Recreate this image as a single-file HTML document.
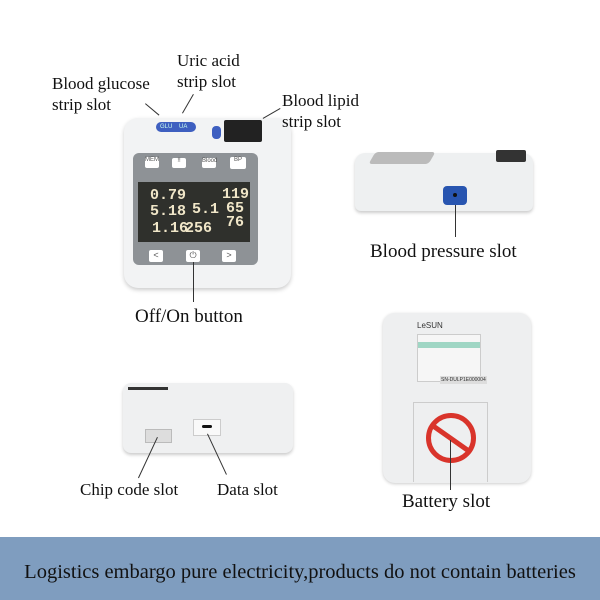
<!DOCTYPE html>
<html><head><style>
body{margin:0;width:600px;height:600px;background:#fff;position:relative;overflow:hidden;font-family:"Liberation Serif",serif;}
div{position:absolute;box-sizing:border-box;}
.t{font-size:17px;color:#111;white-space:nowrap;line-height:20px;z-index:5;}
.ln{background:#333;width:1px;transform-origin:top left;z-index:4;}
.btn{background:#fff;border-radius:2px;font-family:"Liberation Sans",sans-serif;font-size:6px;text-align:center;color:#555;}
.seg{font-family:"Liberation Mono",monospace;color:#f0e6c8;font-size:15px;line-height:15px;font-weight:bold;}
</style></head><body>

<!-- labels top-left -->
<div class="t" style="left:52px;top:74px">Blood glucose</div>
<div class="t" style="left:52px;top:95px">strip slot</div>
<div class="t" style="left:177px;top:51px">Uric acid</div>
<div class="t" style="left:177px;top:72px">strip slot</div>
<div class="t" style="left:282px;top:91px">Blood lipid</div>
<div class="t" style="left:282px;top:112px">strip slot</div>
<div class="ln" style="left:145px;top:104px;height:18px;transform:rotate(-50deg)"></div>
<div class="ln" style="left:193px;top:94px;height:22px;transform:rotate(30deg)"></div>
<div class="ln" style="left:280px;top:108px;height:20px;transform:rotate(60deg)"></div>

<!-- main device -->
<div style="left:124px;top:118px;width:167px;height:170px;background:#f2f3f4;border-radius:14px;box-shadow:0 2px 4px #ccc"></div>
<div style="left:156px;top:122px;width:40px;height:10px;background:#3e5fc0;border-radius:5px;color:#cfe;font:6px 'Liberation Sans',sans-serif;padding:2px 4px">GLU&nbsp;&nbsp;&nbsp;&nbsp;UA</div>
<div style="left:212px;top:126px;width:9px;height:13px;background:#3e5fc0;border-radius:4px"></div>
<div style="left:224px;top:120px;width:38px;height:22px;background:#222;border-radius:2px"></div>
<div style="left:133px;top:153px;width:125px;height:112px;background:#8e9296;border-radius:6px"></div>
<div class="btn" style="left:145px;top:157px;width:14px;height:11px">MEM</div>
<div class="btn" style="left:172px;top:158px;width:14px;height:10px">!!</div>
<div class="btn" style="left:202px;top:158px;width:14px;height:10px">Blood</div>
<div class="btn" style="left:230px;top:157px;width:16px;height:12px">BP</div>
<div style="left:138px;top:182px;width:112px;height:60px;background:#2f302c"></div>
<div class="seg" style="left:150px;top:188px">0.79</div>
<div class="seg" style="left:150px;top:204px">5.18</div>
<div class="seg" style="left:152px;top:221px">1.16</div>
<div class="seg" style="left:192px;top:202px">5.1</div>
<div class="seg" style="left:185px;top:221px">256</div>
<div class="seg" style="left:222px;top:187px">119</div>
<div class="seg" style="left:226px;top:201px">65</div>
<div class="seg" style="left:226px;top:215px">76</div>
<div class="btn" style="left:149px;top:250px;width:14px;height:12px;font-size:9px">&lt;</div>
<div class="btn" style="left:186px;top:250px;width:14px;height:12px;font-size:9px">⏻</div>
<div class="btn" style="left:222px;top:250px;width:14px;height:12px;font-size:9px">&gt;</div>
<div class="ln" style="left:193px;top:262px;height:40px"></div>
<div class="t" style="left:135px;top:307px;font-size:19px">Off/On button</div>

<!-- side device -->
<div style="left:355px;top:153px;width:178px;height:58px;background:#eef0f1;border-radius:10px 10px 6px 6px;box-shadow:0 2px 3px #ccc"></div>
<div style="left:372px;top:152px;width:60px;height:12px;background:#bbb;border-radius:3px;transform:skewX(-30deg)"></div>
<div style="left:496px;top:150px;width:30px;height:12px;background:#333;border-radius:2px"></div>
<div style="left:443px;top:186px;width:24px;height:19px;background:#2855b0;border-radius:4px"></div>
<div style="left:453px;top:193px;width:4px;height:4px;background:#111;border-radius:50%"></div>
<div class="ln" style="left:455px;top:205px;height:32px"></div>
<div class="t" style="left:370px;top:242px;font-size:19px">Blood pressure slot</div>

<!-- back device -->
<div style="left:383px;top:313px;width:148px;height:170px;background:#eeeff0;border-radius:12px;box-shadow:0 1px 3px #ccc"></div>
<div style="left:417px;top:334px;width:64px;height:48px;background:#f6f6f6;border:1px solid #ccc"></div>
<div style="left:418px;top:342px;width:62px;height:6px;background:#9fd6c4"></div>
<div style="left:417px;top:321px;font:8px 'Liberation Sans',sans-serif;color:#333">LeSUN</div>
<div style="left:440px;top:376px;font:5px 'Liberation Sans',sans-serif;color:#333;background:#ddd;padding:1px">SN-DULP1E000004</div>
<div style="left:413px;top:402px;width:75px;height:80px;border:1px solid #ccc;border-bottom:none"></div>
<div style="left:426px;top:413px;width:50px;height:50px;border:5px solid #d9342b;border-radius:50%"></div>
<div style="left:427px;top:436px;width:48px;height:5px;background:#d9342b;transform:rotate(35deg)"></div>
<div class="ln" style="left:450px;top:440px;height:50px"></div>
<div class="t" style="left:402px;top:492px;font-size:19px">Battery slot</div>

<!-- bottom device -->
<div style="left:123px;top:383px;width:170px;height:70px;background:#eff0f1;border-radius:8px;box-shadow:0 2px 3px #ccc"></div>
<div style="left:128px;top:387px;width:40px;height:3px;background:#333"></div>
<div style="left:193px;top:419px;width:28px;height:17px;background:#f9f9f9;border:1px solid #ccc"></div>
<div style="left:202px;top:425px;width:10px;height:3px;background:#111;border-radius:2px"></div>
<div style="left:145px;top:429px;width:27px;height:14px;background:#ddd;border:1px solid #bbb"></div>
<div class="ln" style="left:157px;top:437px;height:45px;transform:rotate(25deg)"></div>
<div class="ln" style="left:207px;top:434px;height:45px;transform:rotate(-25deg)"></div>
<div class="t" style="left:80px;top:480px">Chip code slot</div>
<div class="t" style="left:217px;top:480px">Data slot</div>

<!-- banner -->
<div style="left:0;top:537px;width:600px;height:63px;background:#7f9dbf"></div>
<div style="left:0;top:561px;width:600px;text-align:center;font-size:20.5px;color:#111;white-space:nowrap">Logistics embargo pure electricity,products do not contain batteries</div>
</body></html>
